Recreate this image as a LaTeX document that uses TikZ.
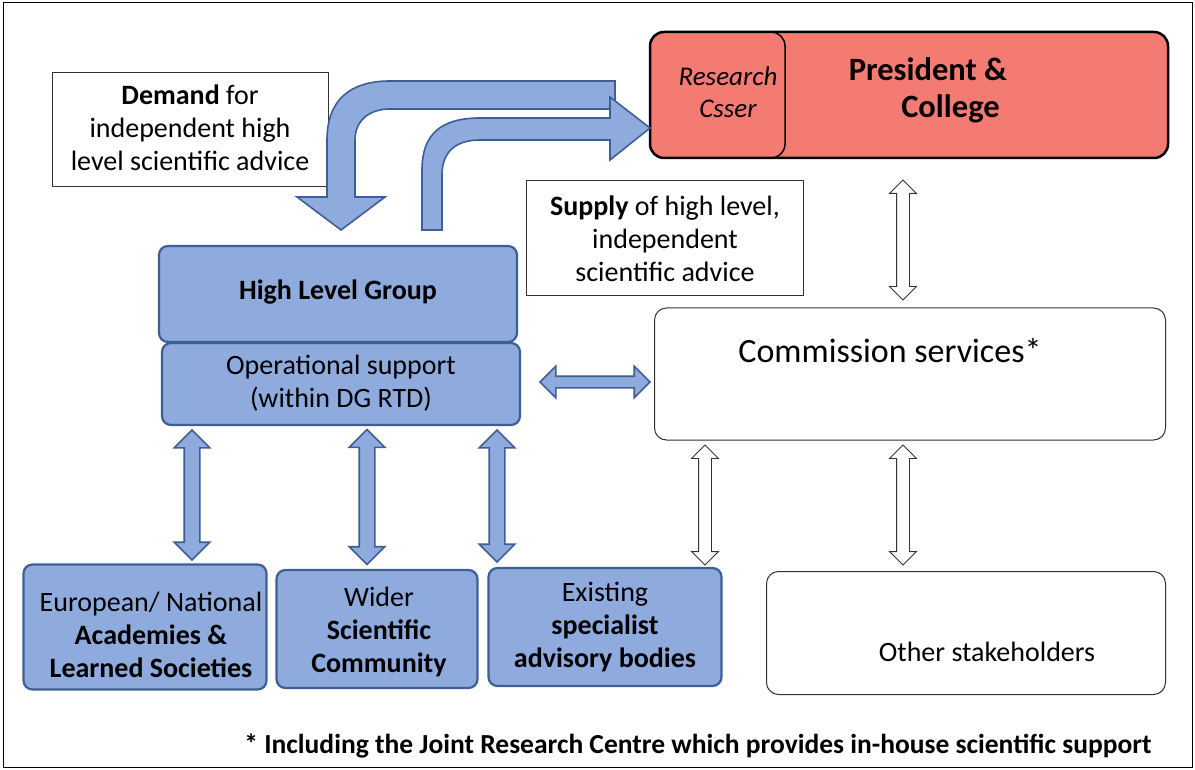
\documentclass[tikz,border=0pt]{standalone}
\usepackage{fontspec}
\setmainfont{Carlito}
\usetikzlibrary{shapes.arrows}
\definecolor{bfill}{HTML}{8FAADC}
\definecolor{bline}{HTML}{3E5E96}
\definecolor{pres}{HTML}{F47B72}
\begin{document}
\begin{tikzpicture}[x=1pt,y=-1pt,
  txt/.style={font=\fontsize{28}{33}\selectfont},
  bluebox/.style={draw=bline,line width=2.2pt,fill=bfill,rounded corners=9pt},
  whitebox/.style={draw=black!80,line width=1pt,fill=white,rounded corners=12pt},
  plain/.style={draw=black!80,line width=0.8pt,fill=white},
  barr/.style={double arrow,draw=bline,line width=1.6pt,fill=bfill,minimum width=34pt,double arrow head extend=10pt,inner xsep=0pt,inner ysep=7pt},
  warr/.style={double arrow,draw=black!80,line width=0.9pt,fill=white,minimum width=26pt,double arrow head extend=7pt,inner xsep=0pt,inner ysep=6pt}]
\useasboundingbox (0,0) rectangle (1195,770);
\draw[line width=1pt] (3,3) rectangle (1192,767);
% demand box
\node[plain,minimum width=276pt,minimum height=114pt] (dem) at (190,129) {};
\node[txt,align=center] at (190,128) {\textbf{Demand} for\\independent high\\level scientific advice};
% supply box
\node[plain,minimum width=277pt,minimum height=115pt] (sup) at (665,238) {};
\node[txt,align=center] at (665,239) {\textbf{Supply} of high level,\\independent\\scientific advice};
% president
\node[draw=black,line width=2.5pt,fill=pres,rounded corners=14pt,minimum width=518pt,minimum height=126pt] (pres) at (909,95) {};
\draw[black,line width=1.5pt,rounded corners=14pt] (785,32) -- (650,32) -- (650,158) -- (785,158) -- cycle;
\node[font=\fontsize{27}{32}\selectfont\itshape,align=center] (rc) at (728,92) {Research\\Csser};
\node[font=\fontsize{32.5}{37}\selectfont\bfseries,align=center] (pc) at (928,90) {President \&\\\hspace*{45pt}College};
% big arrows
\draw[bline,line width=1.6pt,fill=bfill] (615,81) -- (390,81) .. controls (350,81) and (327,100) .. (327,140) -- (327,197) -- (297,197) -- (341,230) -- (385,197) -- (355,197) -- (355,140) .. controls (355,120) and (370,109) .. (390,109) -- (615,109) -- cycle;
\draw[bline,line width=1.6pt,fill=bfill] (422,230) -- (422,170) .. controls (422,135) and (440,118) .. (480,118) -- (610,118) -- (610,97) -- (650,128) -- (610,160) -- (610,140) -- (480,140) .. controls (458,140) and (442,150) .. (442,175) -- (442,230) -- cycle;
% HLG
\node[bluebox,minimum width=358pt,minimum height=96pt] (hlg) at (338,294) {};
\node[font=\fontsize{28}{33}\selectfont\bfseries] at (338,292) {High Level Group};
\node[bluebox,minimum width=358pt,minimum height=82pt] (ops) at (341,384) {};
\node[txt,align=center] at (341,383) {Operational support\\(within DG RTD)};
% commission
\node[whitebox,minimum width=511pt,minimum height=132pt] (com) at (910,374) {};
\node[font=\fontsize{34}{40}\selectfont] at (890,351) {Commission services*};
\node[whitebox,minimum width=399pt,minimum height=123pt] (oth) at (966,633) {};
\node[txt] at (987,652) {Other stakeholders};
% bottom boxes
\node[bluebox,minimum width=243pt,minimum height=125pt] (eur) at (145,627) {};
\node[txt,align=center] at (151,635) {European/ National\\\textbf{Academies \&}\\\textbf{Learned Societies}};
\node[bluebox,minimum width=201pt,minimum height=118pt] (wid) at (377,629) {};
\node[txt,align=center] at (379,632) {Wider\\\textbf{Scientific}\\\textbf{Community}};
\node[bluebox,minimum width=233pt,minimum height=118pt] (exi) at (605,627) {};
\node[txt,align=center] at (605,627) {Existing\\\textbf{specialist}\\\textbf{advisory bodies}};
% double arrows
\node[barr,minimum height=110pt,minimum width=28pt,inner ysep=5pt] (h1) at (595,382) {};
\node[barr,minimum height=130pt,rotate=90] (v1) at (192,495) {};
\node[barr,minimum height=135pt,rotate=90] (v2) at (367,497) {};
\node[barr,minimum height=132pt,rotate=90] (v3) at (497,496) {};
\node[warr,minimum height=120pt,rotate=90] (w1) at (903,240) {};
\node[warr,minimum height=120pt,rotate=90] (w2) at (705,505) {};
\node[warr,minimum height=120pt,rotate=90] (w3) at (903,505) {};
% footnote
\node[font=\fontsize{27.5}{30}\selectfont\bfseries] (fn) at (698,746) {* Including the Joint Research Centre which provides in-house scientific support};
\end{tikzpicture}
\end{document}
